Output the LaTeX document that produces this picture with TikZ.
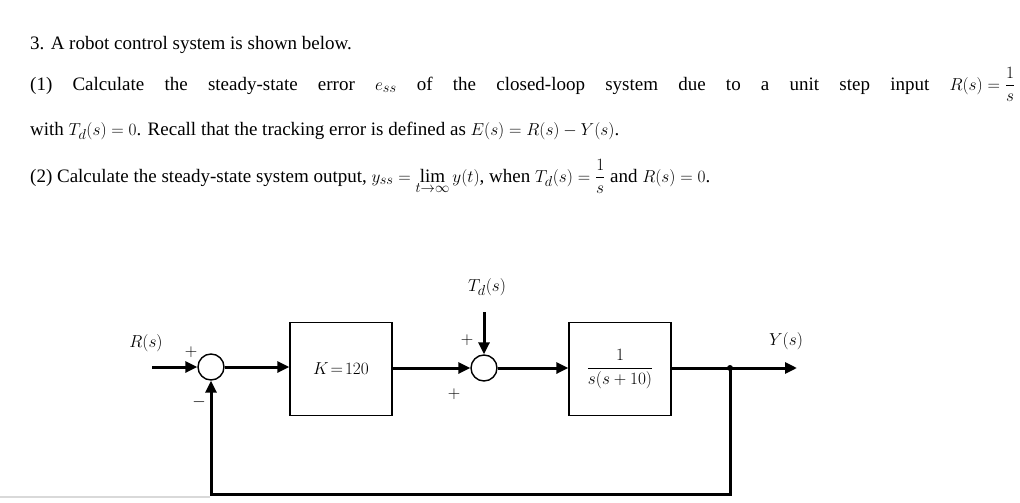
\documentclass[tikz,border=0pt]{standalone}
\usepackage{fontspec}
\setmainfont{Liberation Serif}
\usetikzlibrary{arrows.meta}
\begin{document}
\begin{tikzpicture}[x=1pt,y=-1pt,
  txt/.style={anchor=base west,inner sep=0pt,font=\fontsize{19}{22}\selectfont},
  lbl/.style={inner sep=0pt,font=\fontsize{19}{22}\selectfont},
  blk/.style={draw,line width=1.4pt,minimum width=102pt,minimum height=93pt,inner sep=0pt,font=\fontsize{19}{22}\selectfont},
  sumc/.style={draw,circle,line width=1.4pt,minimum size=26pt,inner sep=0pt},
  sig/.style={line width=3pt,-{Triangle[length=12pt,width=11pt]}},
  wire/.style={line width=3pt}]
\useasboundingbox (0,0) rectangle (1020,503);
\fill[white] (0,0) rectangle (1020,503);
\node[txt] (l1) at (30,49) {3. A robot control system is shown below.};
\node[txt] (l2) at (30,90) {\makebox[985pt][s]{(1) Calculate the steady-state error ${e_{ss}}$ of the closed-loop system due to a unit step input ${\displaystyle R(s)=\frac{1}{s}}$}};
\node[txt] (l3) at (30,135) {with $T_d(s)=0$. Recall that the tracking error is defined as $E(s)=R(s)-Y(s)$.};
\node[txt] (l4) at (30,182) {(2) Calculate the steady-state system output, $y_{ss}=\lim\limits_{t\to\infty}y(t)$, when $\displaystyle T_d(s)=\frac{1}{s}$ and $R(s)=0$.};
% diagram
\node[sumc] (s1) at (211,367) {};
\node[blk] (k) at (341,369) {$K\!=\!120$};
\node[sumc] (s2) at (484,368) {};
\node[blk] (g) at (620,369) {$\displaystyle\frac{1}{s(s+10)}$};
\coordinate (in) at (152,367);
\coordinate (br) at (730,368);
\coordinate (out) at (797,368);
\coordinate (tdt) at (484,312);
\coordinate (fb) at (730,494);
\node[lbl] (R) at (146,343) {$R(s)$};
\node[lbl] (Y) at (786,341) {$Y(s)$};
\node[lbl] (Td) at (487,287) {$T_d(s)$};
\node[lbl] (p1) at (191,352) {$+$};
\node[lbl] (m1) at (199,402) {$-$};
\node[lbl] (p2) at (467,340) {$+$};
\node[lbl] (p3) at (454,394) {$+$};
\draw[sig] (in) -- (s1.west);
\draw[sig] (s1.east) -- (k.west |- s1.east);
\draw[sig] (k.east |- s2.west) -- (s2.west);
\draw[sig] (tdt) -- (s2.north);
\draw[sig] (s2.east) -- (g.west |- s2.east);
\draw[wire] (g.east |- br) -- (br);
\draw[sig] (br) -- (out);
\draw[sig] (br) -- (fb) -| (s1.south);
\fill (br) circle (3pt);
\draw[gray!30,line width=2pt] (0,497) -- (210,497);
\end{tikzpicture}
\end{document}
